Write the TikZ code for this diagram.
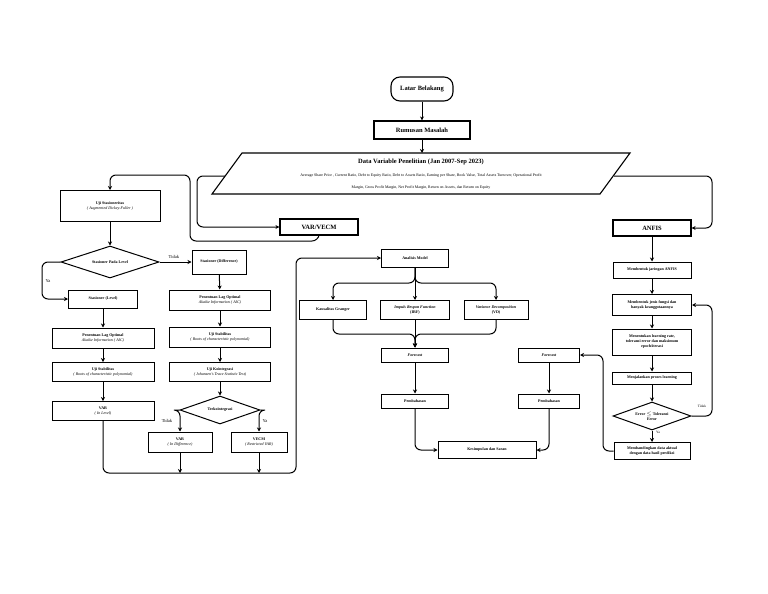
\documentclass[tikz,border=0pt]{standalone}
\usepackage{fontspec}
\setmainfont{Liberation Serif}
\usetikzlibrary{shapes.geometric,arrows.meta}
\begin{document}
\begin{tikzpicture}[x=1pt,y=-1pt,
  box/.style={draw,line width=1pt,inner sep=1pt,align=center,font=\fontsize{4}{5}\selectfont},
  big/.style={draw,line width=1.1pt,inner sep=1pt,align=center,font=\fontsize{6.5}{8}\selectfont\bfseries},
  dia/.style={draw,line width=1pt,diamond,aspect=3.4,inner sep=0pt,align=center,font=\fontsize{4}{5}\selectfont},
  con/.style={line width=1pt,rounded corners=6pt,-{Stealth[length=4pt,width=4pt]}},
  lin/.style={line width=1pt,rounded corners=6pt},
  lab/.style={font=\fontsize{4.5}{5}\selectfont}]
\fill[white] (0,0) rectangle (768,594);
\useasboundingbox (0,0) rectangle (768,594);
% top
\node[big,rounded corners=9pt,minimum width=62pt,minimum height=24pt] (lb) at (422,89) {Latar Belakang};
\node[big,minimum width=96pt,minimum height=18pt] (rm) at (422,130) {Rumusan Masalah};
\draw[line width=1.1pt] (242,153) -- (630,153) -- (600,194) -- (212,194) -- cycle;
\node[align=center,inner sep=0pt] (data) at (421,174) {{\fontsize{6.5}{8}\selectfont\bfseries Data Variable Penelitian (Jan 2007-Sep 2023)}\\[1pt]
{\fontsize{3.9}{5}\selectfont Average Share Price , Current Ratio, Debt to Equity Ratio, Debt to Assets Ratio, Earning per Share, Book Value, Total Assets Turnover, Operational Profit}\\
{\fontsize{3.9}{5}\selectfont Margin, Gross Profit Margin, Net Profit Margin, Return on Assets, dan Return on Equity}};
\coordinate (dtop) at (422,153);
\coordinate (dl) at (225,176);
\coordinate (dr) at (614,176);
\draw[con] (lb) -- (rm);
\draw[con] (rm) -- (dtop);
\node[big,minimum width=78pt,minimum height=16pt] (vv) at (319,227) {VAR/VECM};
\node[big,minimum width=78pt,minimum height=16pt] (anfis) at (652,228) {ANFIS};
\draw[con] (dl) -- (197,176) -- (197,227) -- (vv.west);
\draw[con] (dr) -- (712,176) -- (712,228) -- (anfis.east);
% left
\node[box,minimum width=100pt,minimum height=31pt] (us) at (110,206) {\textbf{Uji Stasioneritas}\\\textit{( Augmented Dickey-Fuller )}};
\draw[con] (vv.south) -- (318,241) -- (190,241) -- (190,175) -- (110,175) -- (us.north);
\node[dia,minimum width=98pt,minimum height=32pt] (spl) at (110,262) {\textbf{Stasioner Pada Level}};
\draw[con] (us) -- (spl);
\node[box,minimum width=54pt,minimum height=24pt] (sd) at (219,262) {\textbf{Stasioner (Difference)}};
\draw[con] (spl.east) -- (sd.west) node[lab,pos=0.45,above] {Tidak};
\node[box,minimum width=69pt,minimum height=18pt] (sl) at (103,299) {\textbf{Stasioner (Level)}};
\draw[con] (spl.west) -- (42,262) -- (42,299) -- (sl.west);
\node[lab] at (48,281) {Ya};
\node[box,minimum width=102pt,minimum height=20pt] (plo1) at (103,338) {\textbf{Penentuan Lag Optimal}\\\textit{Akaike Information ( AIC)}};
\node[box,minimum width=102pt,minimum height=19pt] (us1) at (103,372) {\textbf{Uji Stabilitas}\\\textit{( Roots of characteristic polynomial)}};
\node[box,minimum width=102pt,minimum height=19pt] (var1) at (103,411) {\textbf{VAR}\\\textit{( In Level)}};
\draw[con] (sl) -- (plo1);
\draw[con] (plo1) -- (us1);
\draw[con] (us1) -- (var1);
\node[box,minimum width=101pt,minimum height=20pt] (plo2) at (220,300) {\textbf{Penentuan Lag Optimal}\\\textit{Akaike Information ( AIC)}};
\node[box,minimum width=101pt,minimum height=20pt] (us2) at (220,337) {\textbf{Uji Stabilitas}\\\textit{( Roots of characteristic polynomial)}};
\node[box,minimum width=101pt,minimum height=19pt] (uk) at (220,372) {\textbf{Uji Kointegrasi}\\\textit{( Johansen's Trace Statistic Test)}};
\draw[con] (sd) -- (plo2);
\draw[con] (plo2) -- (us2);
\draw[con] (us2) -- (uk);
\node[dia,minimum width=80pt,minimum height=28pt] (tk) at (220,410) {\textbf{Terkointegrasi}};
\draw[con] (uk) -- (tk);
\node[box,minimum width=64pt,minimum height=20pt] (var2) at (180,442) {\textbf{VAR}\\\textit{( In Difference)}};
\node[box,minimum width=56pt,minimum height=20pt] (vecm) at (259,442) {\textbf{VECM}\\\textit{( Restricted VAR)}};
\draw[con] (tk.west) -- (180,410) -- (var2.north);
\draw[con] (tk.east) -- (259,410) -- (vecm.north);
\node[lab] at (167,421) {Tidak};
\node[lab] at (265,421) {Ya};
% bottom loop
\node[box,minimum width=67pt,minimum height=18pt] (am) at (415,258) {\textbf{Analisis Model}};
\draw[con] (var1.south) -- (103,473) -- (296,473) -- (296,258) -- (am.west);
\coordinate (b1) at (180,473);
\coordinate (b2) at (259,473);
\draw[con] (var2.south) -- (b1);
\draw[con] (vecm.south) -- (b2);
% middle
\node[box,minimum width=67pt,minimum height=19pt] (kg) at (333,310) {\textbf{Kausalitas Granger}};
\node[box,minimum width=69pt,minimum height=19pt] (irf) at (415,310) {\textbf{\textit{Impuls Respon Function}}\\\textbf{(IRF)}};
\node[box,minimum width=64pt,minimum height=19pt] (vd) at (496,310) {\textbf{\textit{Variance Decomposition}}\\\textbf{(VD)}};
\draw[con] (am.south) -- (415,283) -- (333,283) -- (kg.north);
\draw[con] (am.south) -- (irf.north);
\draw[con] (am.south) -- (415,283) -- (496,283) -- (vd.north);
\node[box,minimum width=67pt,minimum height=14pt] (fc1) at (415,355) {\textbf{\textit{Forecast}}};
\draw[con] (kg.south) -- (333,334) -- (415,334) -- (fc1.north);
\draw[con] (irf.south) -- (fc1.north);
\draw[con] (vd.south) -- (496,334) -- (415,334) -- (fc1.north);
\node[box,minimum width=67pt,minimum height=14pt] (pb1) at (415,401) {\textbf{Pembahasan}};
\draw[con] (fc1) -- (pb1);
\node[box,minimum width=98pt,minimum height=17pt] (ks) at (487,450) {\textbf{Kesimpulan dan Saran}};
\draw[con] (pb1.south) -- (415,450) -- (ks.west);
\node[box,minimum width=61pt,minimum height=14pt] (fc2) at (549,355) {\textbf{\textit{Forecast}}};
\node[box,minimum width=61pt,minimum height=14pt] (pb2) at (549,401) {\textbf{Pembahasan}};
\draw[con] (fc2) -- (pb2);
\draw[con] (pb2.south) -- (549,450) -- (ks.east);
% ANFIS column
\node[box,minimum width=78pt,minimum height=16pt] (mj) at (652,270) {\textbf{Membentuk jaringan ANFIS}};
\node[box,minimum width=79pt,minimum height=21pt] (mf) at (652,305) {\textbf{Membentuk jenis fungsi dan}\\\textbf{banyak keanggotaannya}};
\node[box,minimum width=79pt,minimum height=26pt] (ml) at (652,342) {\textbf{Menentukan learning rate,}\\\textbf{toleransi error dan maksimum}\\\textbf{epoch/iterasi}};
\node[box,minimum width=79pt,minimum height=12pt] (mp) at (652,378) {\textbf{Menjalankan proses learning}};
\node[dia,minimum width=78pt,minimum height=28pt] (er) at (652,416) {\textbf{Error $\leq$ Toleransi}\\\textbf{Error}};
\node[box,minimum width=76pt,minimum height=17pt] (mb) at (652,451) {\textbf{Membandingkan data aktual}\\\textbf{dengan data hasil prediksi}};
\draw[con] (anfis) -- (mj);
\draw[con] (mj) -- (mf);
\draw[con] (mf) -- (ml);
\draw[con] (ml) -- (mp);
\draw[con] (mp) -- (er);
\draw[con] (er) -- (mb);
\draw[con] (er.east) -- (712,416) -- (712,305) -- (mf.east);
\node[font=\fontsize{3.5}{4}\selectfont] at (702,406) {Tidak};
\node[font=\fontsize{3.5}{4}\selectfont] at (658,432) {Ya};
\draw[con] (mb.west) -- (603,451) -- (603,355) -- (fc2.east);
\end{tikzpicture}
\end{document}
